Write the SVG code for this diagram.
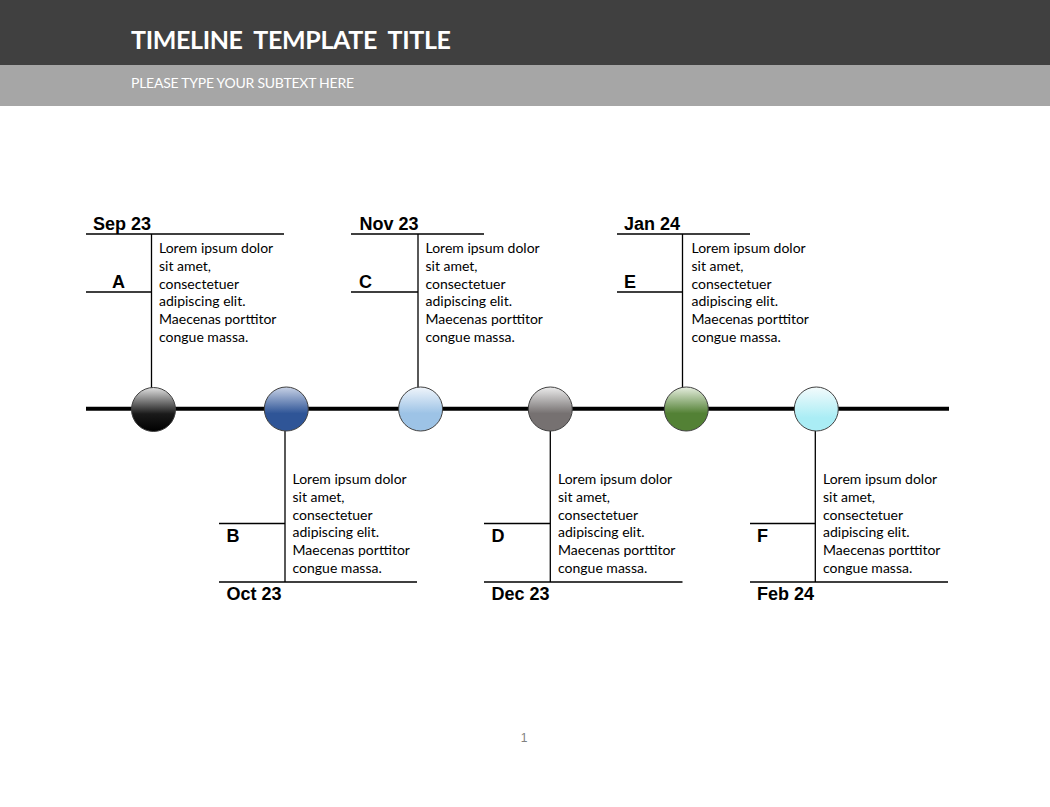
<svg xmlns="http://www.w3.org/2000/svg" width="1050" height="807" viewBox="0 0 1050 807">
<style>
.title{font-family:Lato,"Open Sans",sans-serif;font-weight:bold;font-size:25px;fill:#ffffff;white-space:pre}
.sub{font-family:Lato,"Open Sans",sans-serif;font-size:14px;fill:#ffffff}
.date{font-family:"Liberation Sans",Arial,sans-serif;font-weight:bold;font-size:18px;fill:#000}
.let{font-family:"Liberation Sans",Arial,sans-serif;font-weight:bold;font-size:18px;fill:#000}
.body{font-family:Lato,"Open Sans",sans-serif;font-size:14px;fill:#000}
.ln{stroke:#000;stroke-width:1.3;fill:none}
.dot{stroke:#404040;stroke-width:1}
.pg{font-family:"Liberation Sans",Arial,sans-serif;font-size:12px;fill:#808080}
</style>
<defs>
<linearGradient id="gA" x1="0" y1="0" x2="0" y2="1"><stop offset="0" stop-color="#e0e0e0"/><stop offset="0.6" stop-color="#1a1a1a"/><stop offset="1" stop-color="#000"/></linearGradient>
<linearGradient id="gB" x1="0" y1="0" x2="0" y2="1"><stop offset="0" stop-color="#c8d2e6"/><stop offset="0.6" stop-color="#2f5597"/><stop offset="1" stop-color="#2f5597"/></linearGradient>
<linearGradient id="gC" x1="0" y1="0" x2="0" y2="1"><stop offset="0" stop-color="#f0f5fb"/><stop offset="0.6" stop-color="#9dc3e6"/><stop offset="1" stop-color="#9dc3e6"/></linearGradient>
<linearGradient id="gD" x1="0" y1="0" x2="0" y2="1"><stop offset="0" stop-color="#ececec"/><stop offset="0.6" stop-color="#767171"/><stop offset="1" stop-color="#767171"/></linearGradient>
<linearGradient id="gE" x1="0" y1="0" x2="0" y2="1"><stop offset="0" stop-color="#e6eedf"/><stop offset="0.6" stop-color="#538135"/><stop offset="1" stop-color="#538135"/></linearGradient>
<linearGradient id="gF" x1="0" y1="0" x2="0" y2="1"><stop offset="0" stop-color="#f4fbfc"/><stop offset="0.7" stop-color="#aaedf5"/><stop offset="1" stop-color="#aaedf5"/></linearGradient>
</defs>
<rect x="0" y="0" width="1050" height="807" fill="#fff"/>
<g id="header">
<rect x="0" y="0" width="1050" height="65" fill="#404040"/>
<rect x="0" y="65" width="1050" height="41" fill="#a6a6a6"/>
<text class="title" x="131" y="48.5" textLength="320" lengthAdjust="spacing" xml:space="preserve">TIMELINE  TEMPLATE  TITLE</text>
<text class="sub" x="131" y="87.5" textLength="223" lengthAdjust="spacing">PLEASE TYPE YOUR SUBTEXT HERE</text>
</g>
<g id="connectors">
<line x1="86" y1="408.7" x2="949" y2="408.7" stroke="#000" stroke-width="4"/>
<path class="ln" d="M86 234H284M86 292H151.5M151.5 234V388"/>
<path class="ln" d="M351 234H484M351 292H418M418 234V388"/>
<path class="ln" d="M617 234H750M617 292H682.5M682.5 234V388"/>
<path class="ln" d="M219 582H417M219 523.5H285M285 431V582"/>
<path class="ln" d="M484 582H682.5M484 523.5H550.3M550.3 431V582"/>
<path class="ln" d="M750 582H948M750 523.5H815.3M815.3 431V582"/>
</g>
<g id="node-A">
<circle class="dot" cx="153.5" cy="409.5" r="22" fill="url(#gA)"/>
<text class="date" x="93" y="229.5">Sep 23</text>
<text class="let" x="112" y="288">A</text>
<text class="body" x="159" y="253"><tspan x="159">Lorem ipsum dolor</tspan><tspan x="159" dy="17.8">sit amet,</tspan><tspan x="159" dy="17.8">consectetuer</tspan><tspan x="159" dy="17.8">adipiscing elit.</tspan><tspan x="159" dy="17.8">Maecenas porttitor</tspan><tspan x="159" dy="17.8">congue massa.</tspan></text>
</g>
<g id="node-B">
<circle class="dot" cx="286.3" cy="409" r="22" fill="url(#gB)"/>
<text class="date" x="226.5" y="599.5">Oct 23</text>
<text class="let" x="226.5" y="541.5">B</text>
<text class="body" x="292.5" y="484"><tspan x="292.5">Lorem ipsum dolor</tspan><tspan x="292.5" dy="17.8">sit amet,</tspan><tspan x="292.5" dy="17.8">consectetuer</tspan><tspan x="292.5" dy="17.8">adipiscing elit.</tspan><tspan x="292.5" dy="17.8">Maecenas porttitor</tspan><tspan x="292.5" dy="17.8">congue massa.</tspan></text>
</g>
<g id="node-C">
<circle class="dot" cx="420.6" cy="409" r="22" fill="url(#gC)"/>
<text class="date" x="359.5" y="229.5">Nov 23</text>
<text class="let" x="359" y="288">C</text>
<text class="body" x="425.5" y="253"><tspan x="425.5">Lorem ipsum dolor</tspan><tspan x="425.5" dy="17.8">sit amet,</tspan><tspan x="425.5" dy="17.8">consectetuer</tspan><tspan x="425.5" dy="17.8">adipiscing elit.</tspan><tspan x="425.5" dy="17.8">Maecenas porttitor</tspan><tspan x="425.5" dy="17.8">congue massa.</tspan></text>
</g>
<g id="node-D">
<circle class="dot" cx="550.3" cy="409" r="22" fill="url(#gD)"/>
<text class="date" x="491.5" y="599.5">Dec 23</text>
<text class="let" x="491.5" y="541.5">D</text>
<text class="body" x="558" y="484"><tspan x="558">Lorem ipsum dolor</tspan><tspan x="558" dy="17.8">sit amet,</tspan><tspan x="558" dy="17.8">consectetuer</tspan><tspan x="558" dy="17.8">adipiscing elit.</tspan><tspan x="558" dy="17.8">Maecenas porttitor</tspan><tspan x="558" dy="17.8">congue massa.</tspan></text>
</g>
<g id="node-E">
<circle class="dot" cx="686.3" cy="409" r="22" fill="url(#gE)"/>
<text class="date" x="624" y="229.5">Jan 24</text>
<text class="let" x="624" y="288">E</text>
<text class="body" x="691.5" y="253"><tspan x="691.5">Lorem ipsum dolor</tspan><tspan x="691.5" dy="17.8">sit amet,</tspan><tspan x="691.5" dy="17.8">consectetuer</tspan><tspan x="691.5" dy="17.8">adipiscing elit.</tspan><tspan x="691.5" dy="17.8">Maecenas porttitor</tspan><tspan x="691.5" dy="17.8">congue massa.</tspan></text>
</g>
<g id="node-F">
<circle class="dot" cx="816.3" cy="409" r="22" fill="url(#gF)"/>
<text class="date" x="757" y="599.5">Feb 24</text>
<text class="let" x="757" y="541.5">F</text>
<text class="body" x="823" y="484"><tspan x="823">Lorem ipsum dolor</tspan><tspan x="823" dy="17.8">sit amet,</tspan><tspan x="823" dy="17.8">consectetuer</tspan><tspan x="823" dy="17.8">adipiscing elit.</tspan><tspan x="823" dy="17.8">Maecenas porttitor</tspan><tspan x="823" dy="17.8">congue massa.</tspan></text>
</g>
<text class="pg" x="524" y="742" text-anchor="middle">1</text>
</svg>
